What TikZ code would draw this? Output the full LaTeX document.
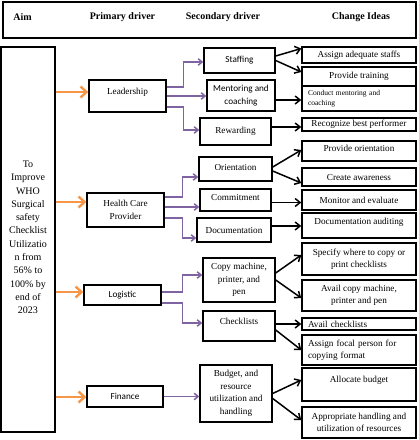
\documentclass[tikz,border=0pt]{standalone}
\usepackage{fontspec}
\setmainfont{Liberation Serif}
\newfontfamily\calib{Carlito}
\usetikzlibrary{arrows.meta,calc}
\definecolor{orng}{HTML}{F79646}
\definecolor{purp}{HTML}{8064A2}
\newcommand\fs{\fontsize{9.2}{12.5}\selectfont}
\begin{document}
\begin{tikzpicture}[x=1pt,y=-1pt,
  bx/.style={draw, line width=1.4pt, inner sep=0pt, align=center, font=\fs},
  cbx/.style={bx, minimum width=114pt},
  lft/.style={align=left, text width=102pt},
  up/.style={text height=6.5pt, text depth={2pt+2*#1}},
  hd/.style={font=\fontsize{10}{12}\selectfont\bfseries, inner sep=0pt},
  orar/.style={draw=orng, line width=2.4pt, -{Straight Barb[length=6pt,width=11pt]}},
  puar/.style={draw=purp, line width=1.5pt, -{Straight Barb[length=4pt,width=6.5pt]}},
  bkar/.style={draw=black, line width=1.5pt, -{Straight Barb[length=5pt,width=8pt]}}]
\useasboundingbox (0,0) rectangle (419,440);
% header
\node[draw, line width=1.4pt, minimum width=413pt, minimum height=36pt, inner sep=0pt] (head) at (209.5,20) {};
\node[hd] (haim) at (22.5,17) {Aim};
\node[hd] (hpri) at (122.5,17) {Primary driver};
\node[hd] (hsec) at (223,17) {Secondary driver};
\node[hd] (hchg) at (361,17) {Change Ideas};
% aim
\node[bx, minimum width=54pt, minimum height=385pt, font=\fontsize{10}{13.3}\selectfont] (aim) at (28,239.5)
 {To\\Improve\\WHO\\Surgical\\safety\\Checklist\\Utilizatio\\n from\\56\% to\\100\% by\\end of\\2023\\[-9pt]};
% primary
\node[bx, minimum width=77pt, minimum height=32pt, up=4] (lead) at (127.5,96) {Leadership};
\node[bx, minimum width=77pt, minimum height=34pt] (hcp) at (125.5,210) {Health Care\\Provider};
\node[bx, minimum width=77pt, minimum height=20pt, font=\fs\calib] (logi) at (122.5,295) {Logistic};
\node[bx, minimum width=76pt, minimum height=21pt, font=\fs\calib] (fin) at (125,396.5) {Finance};
% secondary
\node[bx, minimum width=71pt, minimum height=25pt, font=\fs\calib] (staff) at (239.5,60.5) {Staffing};
\node[bx, minimum width=68pt, minimum height=31pt, font=\fs\calib] (ment) at (241,95.5) {Mentoring and\\coaching};
\node[bx, minimum width=71pt, minimum height=27pt] (rew) at (235.5,131.5) {Rewarding};
\node[bx, minimum width=73pt, minimum height=24pt, up=1] (orient) at (235.5,169) {Orientation};
\node[bx, minimum width=71pt, minimum height=22pt, up=1.5] (commit) at (235.5,200) {Commitment};
\node[bx, minimum width=74pt, minimum height=24pt] (docu) at (234,230) {Documentation};
\node[bx, minimum width=72pt, minimum height=44pt] (copy) at (239,280) {Copy machine,\\printer, and\\pen};
\node[bx, minimum width=72pt, minimum height=30pt, up=4] (chk) at (239,326) {Checklists};
\node[bx, minimum width=72pt, minimum height=57pt] (budget) at (236,393.5) {Budget, and\\resource\\utilization and\\handling};
% change ideas
\node[cbx, minimum height=16pt] (c1) at (359,55) {Assign adequate staffs};
\node[cbx, minimum height=19pt] (c2) at (359,76.5) {Provide training};
\node[cbx, minimum height=25pt, lft, font=\fontsize{7.5}{10}\selectfont] (c3) at (359,98.5) {Conduct mentoring and\\coaching};
\node[cbx, minimum height=13pt] (c4) at (359,124.5) {Recognize best performer};
\node[cbx, minimum height=20pt, up=2] (c5) at (359,151) {Provide orientation};
\node[cbx, minimum height=18pt] (c6) at (359,177) {Create awareness};
\node[cbx, minimum height=20pt] (c7) at (359,200) {Monitor and evaluate};
\node[cbx, minimum height=25pt, up=3] (c8) at (359,225.5) {Documentation auditing};
\node[cbx, minimum height=32pt] (c9) at (359,259) {Specify where to copy or\\print checklists};
\node[cbx, minimum height=31pt] (c10) at (359,295.5) {Avail copy machine,\\printer and pen};
\node[cbx, minimum height=12pt, lft] (c11) at (359,324) {Avail checklists};
\node[cbx, minimum height=30pt, lft] (c12) at (359,350) {Assign focal person for\\copying format};
\node[cbx, minimum height=33pt, up=4.5] (c13) at (359,384.5) {Allocate budget};
\node[cbx, minimum height=31pt] (c14) at (359,422.5) {Appropriate handling and\\utilization of resources};
% orange arrows
\coordinate (o1) at ($(lead.west)+(0,-4)$);
\coordinate (o2) at ($(hcp.west)+(0,-8)$);
\coordinate (o3) at ($(logi.west)+(0,-3)$);
\coordinate (o4) at ($(fin.west)+(0,0.5)$);
\draw[orar] (o1 -| aim.east) -- (o1);
\draw[orar] (o2 -| aim.east) -- (o2);
\draw[orar] (o3 -| aim.east) -- (o3);
\draw[orar] (o4 -| aim.east) -- (o4);
% purple connectors
\draw[puar] ($(lead.east)+(0,-9)$) -- ++(17,0) |- ($(staff.west)+(0,1.5)$);
\draw[puar] (lead.east) -- (lead.east -| ment.west);
\draw[puar] ($(lead.east)+(0,11)$) -- ++(17,0) |- ($(rew.west)+(0,-1.5)$);
\draw[puar] ($(hcp.east)+(0,-13)$) -- ++(18,0) |- ($(orient.west)+(0,8)$);
\coordinate (h2) at ($(hcp.east)+(0,-3)$);
\draw[puar] (h2) -- (h2 -| commit.west);
\draw[puar] ($(hcp.east)+(0,8)$) -- ++(18,0) |- ($(docu.west)+(0,8)$);
\draw[puar] ($(logi.east)+(0,-3)$) -- ++(21,0) |- ($(copy.west)+(0,-5)$);
\draw[puar] ($(logi.east)+(0,8)$) -- ++(21,0) |- ($(chk.west)+(0,-3)$);
\draw[puar] (fin.east) -- (fin.east -| budget.west);
% black arrows
\draw[bkar] ($(staff.east)+(0,-4.5)$) -- ($(c1.west)+(0,-6.5)$);
\draw[bkar] (staff.east) -- ($(c2.west)+(0,-4.5)$);
\coordinate (m1) at ($(ment.east)+(0,4.5)$);
\draw[bkar] (m1) -- (m1 -| c3.west);
\coordinate (r1) at ($(rew.east)+(0,-4.5)$);
\draw[bkar] (r1) -- (r1 -| c4.west);
\draw[bkar] ($(orient.east)+(0,-2)$) -- ($(c5.west)+(0,-1)$);
\draw[bkar] ($(orient.east)+(0,2)$) -- ($(c6.west)+(0,6)$);
\coordinate (k1) at ($(commit.east)+(0,2.5)$);
\draw[bkar] (k1) -- (k1 -| c7.west);
\coordinate (d1) at ($(docu.east)+(0,-4)$);
\draw[bkar] (d1) -- (d1 -| c8.west);
\draw[bkar] ($(copy.east)+(0,-7)$) -- ($(c9.west)+(0,-4)$);
\draw[bkar] (copy.east) -- ($(c10.west)+(0,2.5)$);
\coordinate (x1) at ($(chk.east)+(0,-2)$);
\draw[bkar] (x1) -- (x1 -| c11.west);
\draw[bkar] ($(chk.east)+(0,4)$) -- (c12.west);
\draw[bkar] (budget.east) -- ($(c13.west)+(0,-4.5)$);
\draw[bkar] ($(budget.east)+(0,5)$) -- ($(c14.west)+(0,-2.5)$);
\end{tikzpicture}
\end{document}
